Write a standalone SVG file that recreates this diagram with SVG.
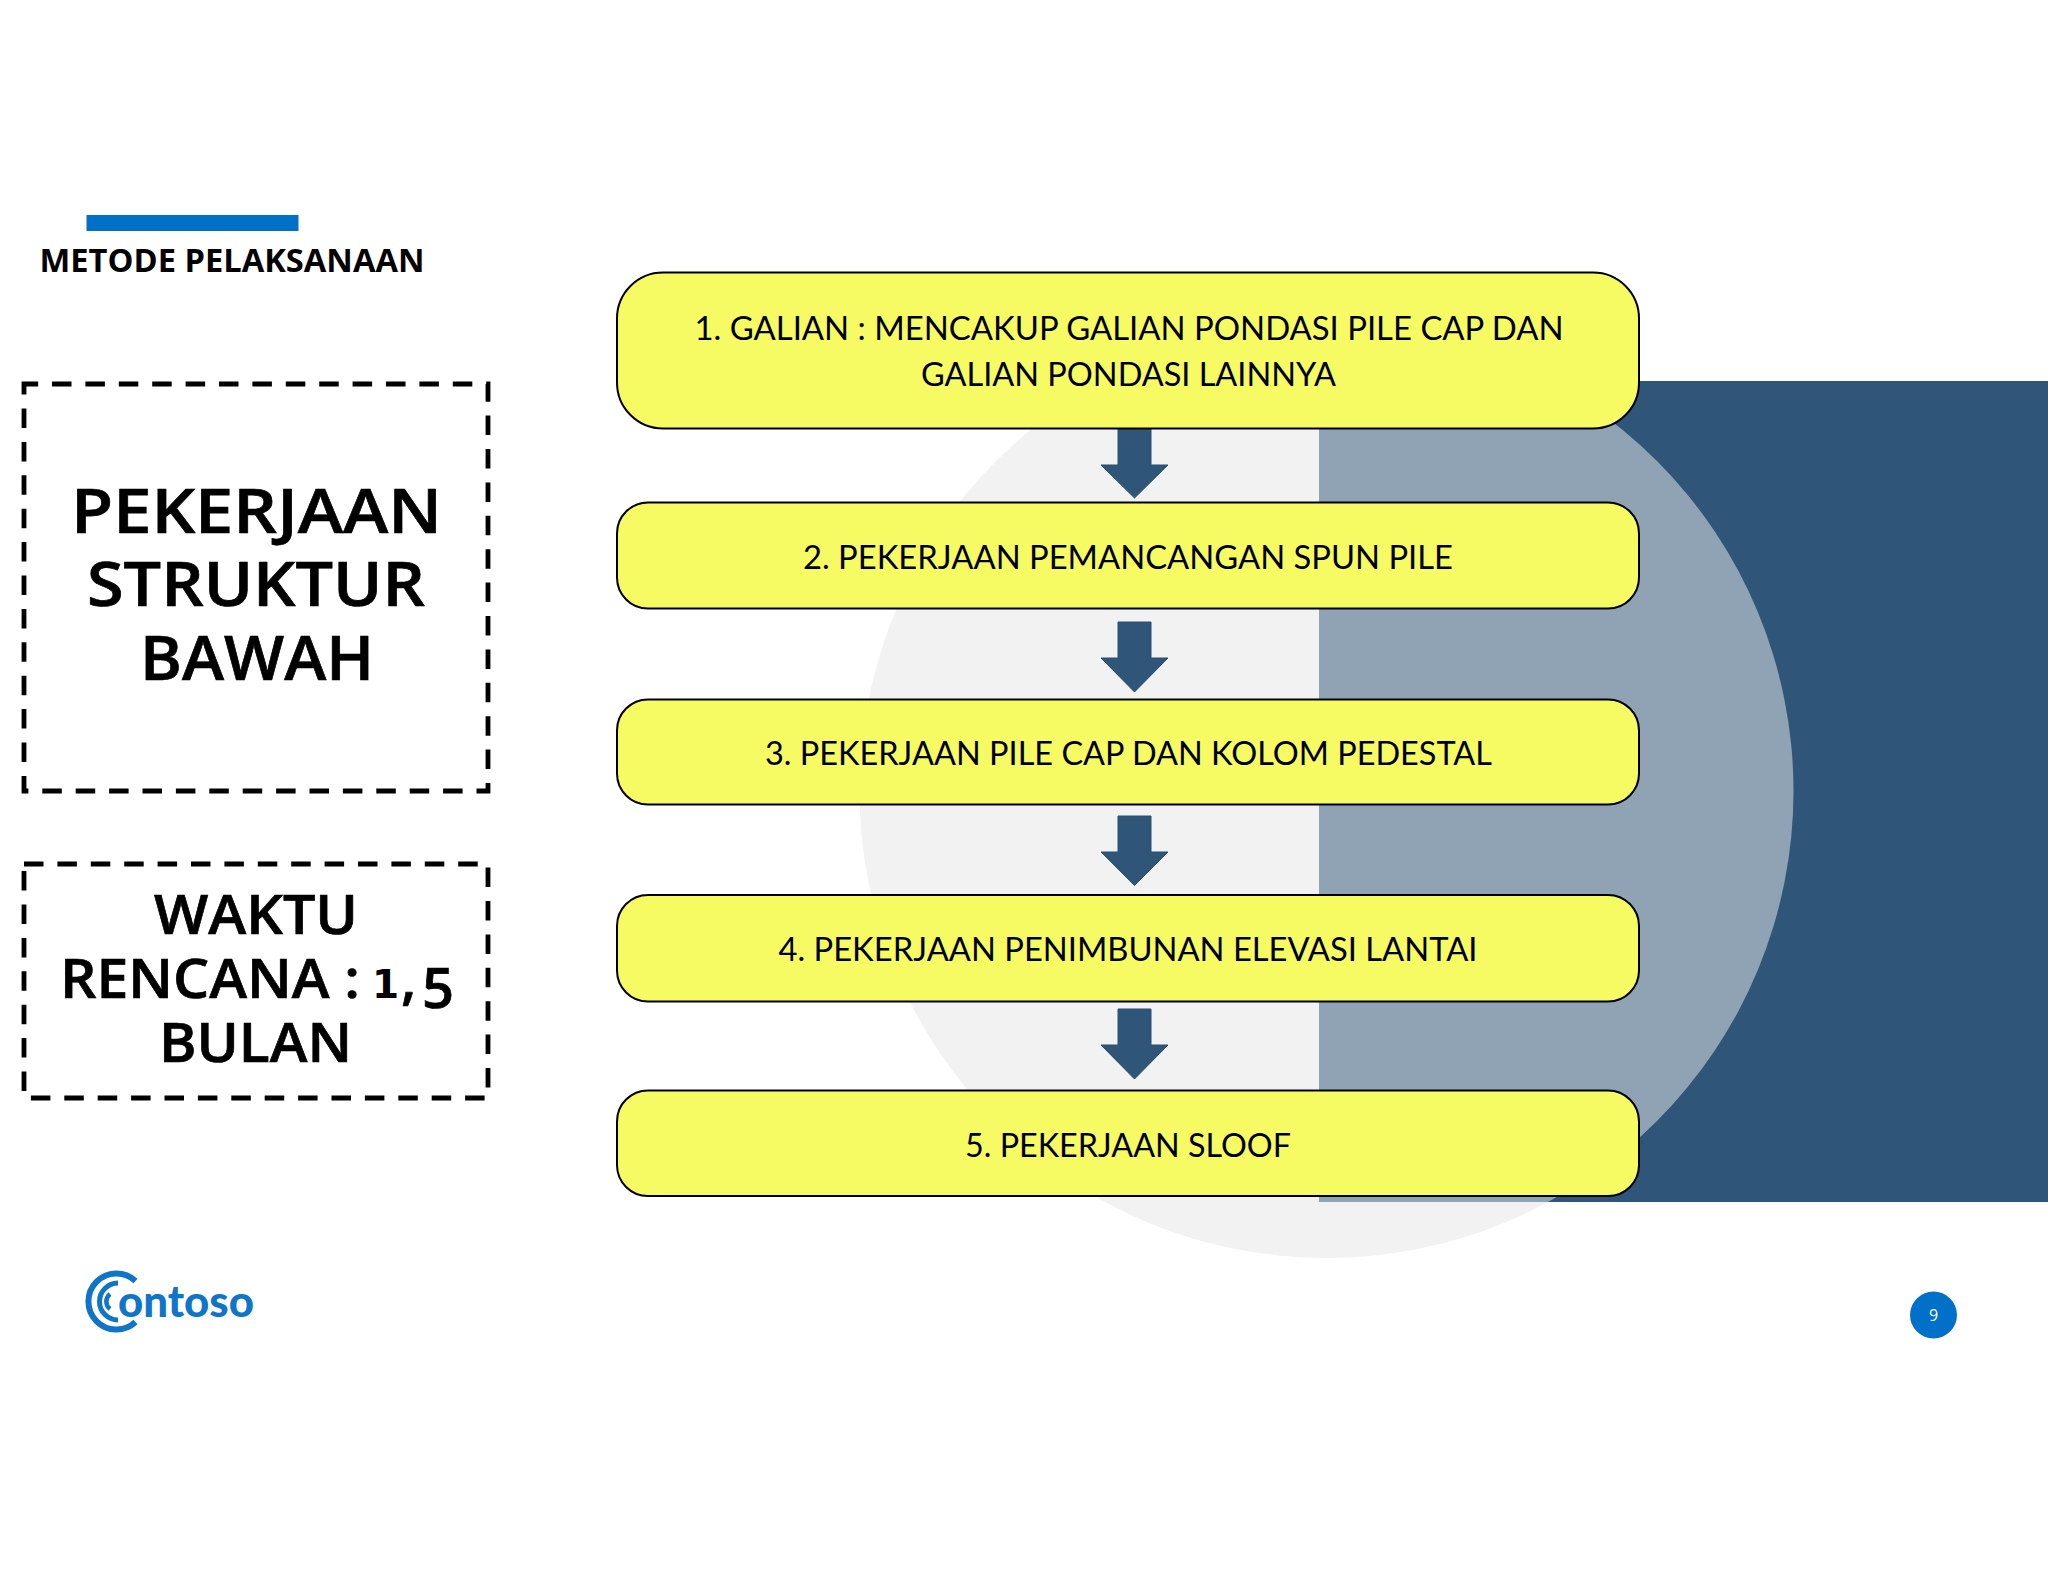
<svg xmlns="http://www.w3.org/2000/svg" width="2048" height="1582" viewBox="0 0 2048 1582">
<style>
.step{fill:#F6FB64;stroke:#000;stroke-width:2}
.st{font-family:"Lato","Carlito","Liberation Sans",sans-serif;font-size:33px;fill:#000;text-anchor:start}
.hd{font-family:"Open Sans","Noto Sans",sans-serif;font-weight:600;fill:#000;stroke:#000;stroke-width:.7}
.tt{font-family:"Open Sans","Noto Sans",sans-serif;font-weight:700;fill:#000}
.dash{fill:none;stroke:#000;stroke-width:4.8;stroke-dasharray:19.5 13.9}
.arrow{fill:#2F5679;stroke:#2A4F70;stroke-width:1}
</style>
<defs><clipPath id="circ"><circle cx="1326.500" cy="791" r="467"/></clipPath></defs>
<rect width="2048" height="1582" fill="#fff"/>
<g id="background">
<circle cx="1326.500" cy="791" r="467" fill="#F2F2F2"/>
<rect x="1319" y="381" width="729" height="821" fill="#2F5679"/>
<rect x="1319" y="381" width="729" height="821" fill="#8FA3B5" clip-path="url(#circ)"/>
</g>
<g id="title">
<rect x="86.500" y="215" width="212" height="16" fill="#0070C8"/>
<text class="tt" x="39.500" y="272" font-size="33" textLength="385" lengthAdjust="spacingAndGlyphs">METODE PELAKSANAAN</text>
</g>
<g id="box-pekerjaan">
<rect class="dash" x="24" y="384" width="464" height="407" stroke-dashoffset="5.4"/>
<text class="hd" x="71" y="533" font-size="61" textLength="371" lengthAdjust="spacingAndGlyphs">PEKERJAAN</text>
<text class="hd" x="87" y="606" font-size="61" textLength="338" lengthAdjust="spacingAndGlyphs">STRUKTUR</text>
<text class="hd" x="140" y="680" font-size="61" textLength="234" lengthAdjust="spacingAndGlyphs">BAWAH</text>
</g>
<g id="box-waktu">
<rect class="dash" x="24" y="864" width="464" height="234"/>
<text class="hd" x="154" y="933.500" font-size="54" textLength="204" lengthAdjust="spacingAndGlyphs">WAKTU</text>
<text class="hd" x="60" y="997.500" font-size="54" textLength="300" lengthAdjust="spacingAndGlyphs">RENCANA :</text>
<text x="372" y="997.500" font-family="'DejaVu Sans',sans-serif" font-weight="700" font-size="39">1</text>
<text class="hd" x="401" y="999" font-size="56">,</text>
<text class="hd" x="422" y="1007.500" font-size="56">5</text>
<text class="hd" x="159" y="1061.500" font-size="54" textLength="193" lengthAdjust="spacingAndGlyphs">BULAN</text>
</g>
<g id="connectors">
<path class="arrow" d="M1118 427H1151V465H1168L1134.500 498L1101 465H1118Z"/>
<path class="arrow" d="M1118 622H1151V658H1168L1134.500 692L1101 658H1118Z"/>
<path class="arrow" d="M1118 816H1151V852H1168L1134.500 885.500L1101 852H1118Z"/>
<path class="arrow" d="M1118 1009H1151V1045H1168L1134.500 1079L1101 1045H1118Z"/>
</g>
<g id="step-1">
<rect class="step" x="617" y="272.500" width="1022" height="156" rx="46" ry="46"/>
<text class="st" x="694.500" y="340" textLength="869" lengthAdjust="spacingAndGlyphs">1. GALIAN : MENCAKUP GALIAN PONDASI PILE CAP DAN</text>
<text class="st" x="921" y="386" textLength="415" lengthAdjust="spacingAndGlyphs">GALIAN PONDASI LAINNYA</text>
</g>
<g id="step-2">
<rect class="step" x="617" y="502.500" width="1022" height="106" rx="31" ry="31"/>
<text class="st" x="803" y="569" textLength="650" lengthAdjust="spacingAndGlyphs">2. PEKERJAAN PEMANCANGAN SPUN PILE</text>
</g>
<g id="step-3">
<rect class="step" x="617" y="699.500" width="1022" height="105" rx="31" ry="31"/>
<text class="st" x="765" y="765" textLength="727" lengthAdjust="spacingAndGlyphs">3. PEKERJAAN PILE CAP DAN KOLOM PEDESTAL</text>
</g>
<g id="step-4">
<rect class="step" x="617" y="895" width="1022" height="106.500" rx="31" ry="31"/>
<text class="st" x="778.500" y="961" textLength="699" lengthAdjust="spacingAndGlyphs">4. PEKERJAAN PENIMBUNAN ELEVASI LANTAI</text>
</g>
<g id="step-5">
<rect class="step" x="617" y="1090.500" width="1022" height="105.500" rx="31" ry="31"/>
<text class="st" x="965" y="1157" textLength="326" lengthAdjust="spacingAndGlyphs">5. PEKERJAAN SLOOF</text>
</g>
<g id="logo">
<path d="M135.500 1281A28 28 0 1 0 135.500 1322" fill="none" stroke="#0F75C8" stroke-width="6"/>
<path d="M118 1283A18.500 18.500 0 0 0 118 1320" fill="none" stroke="#0F75C8" stroke-width="5"/>
<path d="M110 1294A9.500 9.500 0 0 0 110 1309" fill="none" stroke="#0F75C8" stroke-width="4.500"/>
<text x="118" y="1317" font-family="Lato,'Open Sans',sans-serif" font-weight="900" font-size="44" fill="#0F75C8" textLength="136" lengthAdjust="spacingAndGlyphs">ontoso</text>
</g>
<g id="page-number">
<circle cx="1933.500" cy="1315" r="23.500" fill="#0070C8"/>
<text x="1933.500" y="1321" font-family="'Open Sans',sans-serif" font-size="16" fill="#fff" text-anchor="middle">9</text>
</g>
</svg>
